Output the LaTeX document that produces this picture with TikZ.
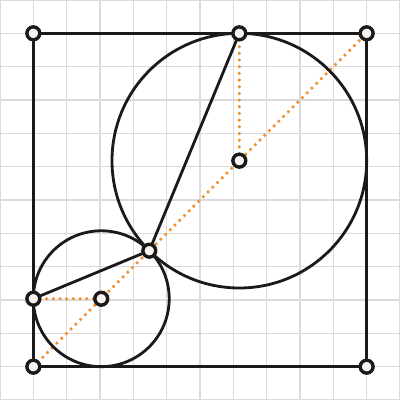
\documentclass[tikz,border=0pt]{standalone}
\usepackage{color,xcolor}
\usetikzlibrary{positioning,calc}
\definecolor{dotorange}{HTML}{F28E2B}
\definecolor{ptfill}{HTML}{FAF4EE}
\definecolor{ink}{HTML}{1A1A1A}
\tikzset{
  edge/.style={draw=ink, line width=2.4pt},
  helper/.style={draw=dotorange, line width=3pt, line cap=round, dash pattern=on 0pt off 5.7pt},
  pt/.style={circle, draw=ink, fill=ptfill, line width=2.9pt, inner sep=0pt, minimum size=11pt},
}
\begin{document}
\begin{tikzpicture}
        \useasboundingbox (-1,-1) rectangle (11,11);
        \draw[black!14, line width=1.4pt] (-1,-1) grid (11,11);
        \pgfmathsetmacro{\R}{3.82}
        \pgfmathsetmacro{\r}{5.858-\R}
        % corners and centres
        \foreach \x/\y/\name in {0/0/D,10/0/C,10/10/B,0/10/A}{\coordinate (\name) at (\x,\y);}
        \coordinate (Obig) at (10-\R,10-\R);
        \coordinate (Osmall) at (\r,\r);
        \coordinate (Etop) at (10-\R,10);
        \coordinate (Fleft) at (0,\r);
        \coordinate (T) at ($(Osmall)!\r cm!(Obig)$);
       \path[helper] (D) -- (B);
       \path[helper] (Etop) -- (Obig);
       \path[helper] (Fleft) -- (Osmall);
       \draw[edge] (Obig) circle[radius=\R];
       \draw[edge] (Osmall) circle[radius=\r];
       \draw[edge] (A) -- (B) -- (C) -- (D) -- cycle;
       \draw[edge] (Etop) -- (T);
       \draw[edge] (Fleft) -- (T);
        \foreach \name in {A,B,C,D,Etop,Fleft,T,Obig,Osmall}{\node[pt] (p\name) at (\name) {};}
    \end{tikzpicture}
\end{document}
